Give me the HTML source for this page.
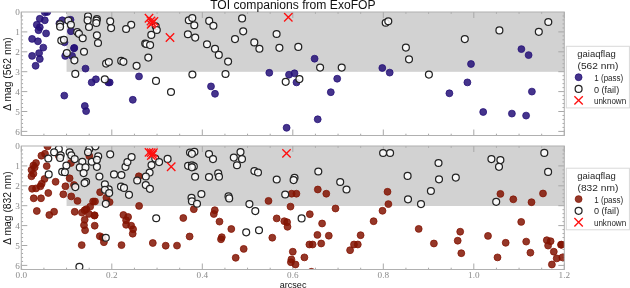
<!DOCTYPE html>
<html lang="en"><head><meta charset="utf-8"><title>TOI companions from ExoFOP</title>
<style>html,body{margin:0;padding:0;background:#fff;}svg{display:block;}text{font-family:"Liberation Sans","DejaVu Sans",sans-serif;}.tk{font-family:"Liberation Serif","DejaVu Serif",serif;font-size:9.2px;fill:#8a8a8a;}.lg{font-size:8.3px;fill:#262626;}.yl{font-size:10.8px;fill:#111;}</style></head><body>
<svg width="630" height="288" viewBox="0 0 630 288">
<rect width="630" height="288" fill="#fff"/>
<defs>
<clipPath id="ct"><rect x="21.30" y="12.00" width="543.00" height="123.50"/></clipPath>
<clipPath id="cb"><rect x="21.30" y="146.00" width="543.00" height="123.50"/></clipPath>
</defs>
<rect x="66.55" y="12.00" width="497.75" height="59.80" fill="#d2d2d2"/>
<path d="M21.30 135.50v-6.00M21.30 12.00v6.00M43.92 135.50v-1.80M43.92 12.00v1.80M66.55 135.50v-1.80M66.55 12.00v1.80M89.18 135.50v-1.80M89.18 12.00v1.80M111.80 135.50v-6.00M111.80 12.00v6.00M134.43 135.50v-1.80M134.43 12.00v1.80M157.05 135.50v-1.80M157.05 12.00v1.80M179.68 135.50v-1.80M179.68 12.00v1.80M202.30 135.50v-6.00M202.30 12.00v6.00M224.93 135.50v-1.80M224.93 12.00v1.80M247.55 135.50v-1.80M247.55 12.00v1.80M270.18 135.50v-1.80M270.18 12.00v1.80M292.80 135.50v-6.00M292.80 12.00v6.00M315.43 135.50v-1.80M315.43 12.00v1.80M338.05 135.50v-1.80M338.05 12.00v1.80M360.68 135.50v-1.80M360.68 12.00v1.80M383.30 135.50v-6.00M383.30 12.00v6.00M405.93 135.50v-1.80M405.93 12.00v1.80M428.55 135.50v-1.80M428.55 12.00v1.80M451.18 135.50v-1.80M451.18 12.00v1.80M473.80 135.50v-6.00M473.80 12.00v6.00M496.43 135.50v-1.80M496.43 12.00v1.80M519.05 135.50v-1.80M519.05 12.00v1.80M541.68 135.50v-1.80M541.68 12.00v1.80M564.30 135.50v-6.00M564.30 12.00v6.00M21.30 15.98h1.80M564.30 15.98h-1.80M21.30 19.96h1.80M564.30 19.96h-1.80M21.30 23.94h1.80M564.30 23.94h-1.80M21.30 27.92h1.80M564.30 27.92h-1.80M21.30 31.90h6.00M564.30 31.90h-6.00M21.30 35.88h1.80M564.30 35.88h-1.80M21.30 39.86h1.80M564.30 39.86h-1.80M21.30 43.84h1.80M564.30 43.84h-1.80M21.30 47.82h1.80M564.30 47.82h-1.80M21.30 51.80h6.00M564.30 51.80h-6.00M21.30 55.78h1.80M564.30 55.78h-1.80M21.30 59.76h1.80M564.30 59.76h-1.80M21.30 63.74h1.80M564.30 63.74h-1.80M21.30 67.72h1.80M564.30 67.72h-1.80M21.30 71.70h6.00M564.30 71.70h-6.00M21.30 75.68h1.80M564.30 75.68h-1.80M21.30 79.66h1.80M564.30 79.66h-1.80M21.30 83.64h1.80M564.30 83.64h-1.80M21.30 87.62h1.80M564.30 87.62h-1.80M21.30 91.60h6.00M564.30 91.60h-6.00M21.30 95.58h1.80M564.30 95.58h-1.80M21.30 99.56h1.80M564.30 99.56h-1.80M21.30 103.54h1.80M564.30 103.54h-1.80M21.30 107.52h1.80M564.30 107.52h-1.80M21.30 111.50h6.00M564.30 111.50h-6.00M21.30 115.48h1.80M564.30 115.48h-1.80M21.30 119.46h1.80M564.30 119.46h-1.80M21.30 123.44h1.80M564.30 123.44h-1.80M21.30 127.42h1.80M564.30 127.42h-1.80M21.30 131.40h6.00M564.30 131.40h-6.00M21.30 135.38h1.80M564.30 135.38h-1.80" stroke="#a8a8a8" stroke-width="1" fill="none"/>
<g clip-path="url(#ct)">
<g fill="#251078" fill-opacity="0.85" stroke="#251078" stroke-opacity="0.85" stroke-width="0.9">
<circle cx="44.8" cy="12.3" r="3.45"/>
<circle cx="47.3" cy="12.0" r="3.45"/>
<circle cx="39.8" cy="18.8" r="3.45"/>
<circle cx="44.8" cy="20.3" r="3.45"/>
<circle cx="36.8" cy="24.8" r="3.45"/>
<circle cx="39.8" cy="27.3" r="3.45"/>
<circle cx="38.5" cy="30.2" r="3.45"/>
<circle cx="46.1" cy="33.4" r="3.45"/>
<circle cx="32.1" cy="38.9" r="3.45"/>
<circle cx="37.9" cy="41.3" r="3.45"/>
<circle cx="43.3" cy="47.6" r="3.45"/>
<circle cx="39.1" cy="53.1" r="3.45"/>
<circle cx="32.1" cy="55.9" r="3.45"/>
<circle cx="39.8" cy="59.0" r="3.45"/>
<circle cx="35.6" cy="65.8" r="3.45"/>
<circle cx="62.2" cy="20.3" r="3.45"/>
<circle cx="59.4" cy="23.5" r="3.45"/>
<circle cx="70.5" cy="19.8" r="3.45"/>
<circle cx="70.9" cy="31.2" r="3.45"/>
<circle cx="64.5" cy="42.3" r="3.45"/>
<circle cx="74.3" cy="47.9" r="3.45"/>
<circle cx="74.0" cy="48.3" r="3.45"/>
<circle cx="65.2" cy="55.9" r="3.45"/>
<circle cx="72.1" cy="55.9" r="3.45"/>
<circle cx="85.5" cy="68.6" r="3.45"/>
<circle cx="64.3" cy="95.6" r="3.45"/>
<circle cx="91.7" cy="82.4" r="3.45"/>
<circle cx="95.9" cy="79.3" r="3.45"/>
<circle cx="108.3" cy="82.4" r="3.45"/>
<circle cx="109.7" cy="82.4" r="3.45"/>
<circle cx="84.8" cy="106.0" r="3.45"/>
<circle cx="86.1" cy="111.1" r="3.45"/>
<circle cx="132.8" cy="99.8" r="3.45"/>
<circle cx="139.0" cy="76.4" r="3.45"/>
<circle cx="211.0" cy="86.4" r="3.45"/>
<circle cx="215.0" cy="93.8" r="3.45"/>
<circle cx="269.3" cy="72.8" r="3.45"/>
<circle cx="289.0" cy="74.7" r="3.45"/>
<circle cx="294.5" cy="73.3" r="3.45"/>
<circle cx="296.5" cy="82.4" r="3.45"/>
<circle cx="286.6" cy="127.8" r="3.45"/>
<circle cx="314.6" cy="58.7" r="3.45"/>
<circle cx="382.3" cy="68.0" r="3.45"/>
<circle cx="389.7" cy="72.6" r="3.45"/>
<circle cx="337.2" cy="78.7" r="3.45"/>
<circle cx="330.8" cy="92.2" r="3.45"/>
<circle cx="317.7" cy="119.3" r="3.45"/>
<circle cx="471.0" cy="64.0" r="3.45"/>
<circle cx="521.4" cy="49.1" r="3.45"/>
<circle cx="528.6" cy="55.1" r="3.45"/>
<circle cx="449.4" cy="93.3" r="3.45"/>
<circle cx="467.4" cy="82.4" r="3.45"/>
<circle cx="483.2" cy="112.0" r="3.45"/>
<circle cx="511.9" cy="113.6" r="3.45"/>
<circle cx="526.1" cy="115.6" r="3.45"/>
<circle cx="531.9" cy="91.6" r="3.45"/>
</g>
<g fill="#fff" fill-opacity="0.85" stroke="#242424" stroke-width="1.25">
<circle cx="60.1" cy="24.3" r="3.45"/>
<circle cx="60.1" cy="26.7" r="3.45"/>
<circle cx="68.3" cy="20.5" r="3.45"/>
<circle cx="70.9" cy="24.8" r="3.45"/>
<circle cx="77.2" cy="32.1" r="3.45"/>
<circle cx="78.9" cy="33.8" r="3.45"/>
<circle cx="82.7" cy="38.2" r="3.45"/>
<circle cx="88.0" cy="16.3" r="3.45"/>
<circle cx="87.6" cy="20.3" r="3.45"/>
<circle cx="89.0" cy="27.0" r="3.45"/>
<circle cx="61.3" cy="40.6" r="3.45"/>
<circle cx="63.9" cy="39.7" r="3.45"/>
<circle cx="66.8" cy="53.1" r="3.45"/>
<circle cx="74.4" cy="60.3" r="3.45"/>
<circle cx="84.0" cy="51.7" r="3.45"/>
<circle cx="75.3" cy="73.9" r="3.45"/>
<circle cx="96.9" cy="19.0" r="3.45"/>
<circle cx="96.5" cy="20.5" r="3.45"/>
<circle cx="96.3" cy="23.0" r="3.45"/>
<circle cx="110.2" cy="21.3" r="3.45"/>
<circle cx="111.1" cy="28.1" r="3.45"/>
<circle cx="131.2" cy="24.8" r="3.45"/>
<circle cx="126.1" cy="29.0" r="3.45"/>
<circle cx="96.9" cy="35.3" r="3.45"/>
<circle cx="98.0" cy="43.0" r="3.45"/>
<circle cx="155.7" cy="26.2" r="3.45"/>
<circle cx="156.8" cy="30.0" r="3.45"/>
<circle cx="151.3" cy="34.9" r="3.45"/>
<circle cx="145.2" cy="43.6" r="3.45"/>
<circle cx="146.3" cy="44.0" r="3.45"/>
<circle cx="150.1" cy="45.1" r="3.45"/>
<circle cx="106.1" cy="63.6" r="3.45"/>
<circle cx="108.8" cy="62.0" r="3.45"/>
<circle cx="121.2" cy="60.9" r="3.45"/>
<circle cx="123.4" cy="61.8" r="3.45"/>
<circle cx="136.6" cy="65.8" r="3.45"/>
<circle cx="148.3" cy="57.6" r="3.45"/>
<circle cx="104.8" cy="79.3" r="3.45"/>
<circle cx="156.0" cy="80.9" r="3.45"/>
<circle cx="188.8" cy="20.2" r="3.45"/>
<circle cx="192.3" cy="18.0" r="3.45"/>
<circle cx="194.3" cy="25.3" r="3.45"/>
<circle cx="187.9" cy="34.2" r="3.45"/>
<circle cx="195.2" cy="37.6" r="3.45"/>
<circle cx="209.2" cy="20.9" r="3.45"/>
<circle cx="213.4" cy="25.8" r="3.45"/>
<circle cx="207.0" cy="44.2" r="3.45"/>
<circle cx="215.0" cy="48.7" r="3.45"/>
<circle cx="218.8" cy="54.9" r="3.45"/>
<circle cx="228.1" cy="61.6" r="3.45"/>
<circle cx="235.0" cy="39.1" r="3.45"/>
<circle cx="242.1" cy="18.4" r="3.45"/>
<circle cx="243.2" cy="31.3" r="3.45"/>
<circle cx="254.3" cy="42.4" r="3.45"/>
<circle cx="259.4" cy="48.7" r="3.45"/>
<circle cx="276.6" cy="34.0" r="3.45"/>
<circle cx="279.4" cy="47.8" r="3.45"/>
<circle cx="225.5" cy="74.0" r="3.45"/>
<circle cx="192.4" cy="74.5" r="3.45"/>
<circle cx="171.0" cy="92.0" r="3.45"/>
<circle cx="285.7" cy="81.8" r="3.45"/>
<circle cx="298.3" cy="46.9" r="3.45"/>
<circle cx="320.1" cy="67.6" r="3.45"/>
<circle cx="341.7" cy="67.6" r="3.45"/>
<circle cx="385.7" cy="22.7" r="3.45"/>
<circle cx="388.3" cy="21.3" r="3.45"/>
<circle cx="405.9" cy="47.6" r="3.45"/>
<circle cx="409.0" cy="59.3" r="3.45"/>
<circle cx="428.9" cy="74.6" r="3.45"/>
<circle cx="299.4" cy="79.1" r="3.45"/>
<circle cx="464.8" cy="39.1" r="3.45"/>
<circle cx="499.4" cy="30.4" r="3.45"/>
<circle cx="538.8" cy="31.8" r="3.45"/>
<circle cx="548.3" cy="22.0" r="3.45"/>
</g>
<g stroke="#ff1010" stroke-width="1.35" fill="none">
<path d="M144.8 14.1L153.2 22.5M144.8 22.5L153.2 14.1"/>
<path d="M146.8 16.8L155.2 25.2M146.8 25.2L155.2 16.8"/>
<path d="M149.7 17.2L158.1 25.6M149.7 25.6L158.1 17.2"/>
<path d="M148.0 18.7L156.4 27.1M148.0 27.1L156.4 18.7"/>
<path d="M147.0 20.2L155.4 28.6M147.0 28.6L155.4 20.2"/>
<path d="M165.8 33.3L174.2 41.7M165.8 41.7L174.2 33.3"/>
<path d="M284.1 13.1L292.5 21.5M284.1 21.5L292.5 13.1"/>
</g>
</g>
<rect x="21.30" y="12.00" width="543.00" height="123.50" fill="none" stroke="#b0b0b0" stroke-width="1"/>
<text class="tk" x="19.8" y="15.2" text-anchor="end">0</text>
<text class="tk" x="19.8" y="35.1" text-anchor="end">1</text>
<text class="tk" x="19.8" y="55.0" text-anchor="end">2</text>
<text class="tk" x="19.8" y="74.9" text-anchor="end">3</text>
<text class="tk" x="19.8" y="94.8" text-anchor="end">4</text>
<text class="tk" x="19.8" y="114.7" text-anchor="end">5</text>
<text class="tk" x="19.8" y="134.6" text-anchor="end">6</text>
<rect x="66.55" y="146.00" width="497.75" height="60.00" fill="#d2d2d2"/>
<path d="M21.30 269.50v-6.00M21.30 146.00v6.00M43.92 269.50v-1.80M43.92 146.00v1.80M66.55 269.50v-1.80M66.55 146.00v1.80M89.18 269.50v-1.80M89.18 146.00v1.80M111.80 269.50v-6.00M111.80 146.00v6.00M134.43 269.50v-1.80M134.43 146.00v1.80M157.05 269.50v-1.80M157.05 146.00v1.80M179.68 269.50v-1.80M179.68 146.00v1.80M202.30 269.50v-6.00M202.30 146.00v6.00M224.93 269.50v-1.80M224.93 146.00v1.80M247.55 269.50v-1.80M247.55 146.00v1.80M270.18 269.50v-1.80M270.18 146.00v1.80M292.80 269.50v-6.00M292.80 146.00v6.00M315.43 269.50v-1.80M315.43 146.00v1.80M338.05 269.50v-1.80M338.05 146.00v1.80M360.68 269.50v-1.80M360.68 146.00v1.80M383.30 269.50v-6.00M383.30 146.00v6.00M405.93 269.50v-1.80M405.93 146.00v1.80M428.55 269.50v-1.80M428.55 146.00v1.80M451.18 269.50v-1.80M451.18 146.00v1.80M473.80 269.50v-6.00M473.80 146.00v6.00M496.43 269.50v-1.80M496.43 146.00v1.80M519.05 269.50v-1.80M519.05 146.00v1.80M541.68 269.50v-1.80M541.68 146.00v1.80M564.30 269.50v-6.00M564.30 146.00v6.00M21.30 149.98h1.80M564.30 149.98h-1.80M21.30 153.96h1.80M564.30 153.96h-1.80M21.30 157.94h1.80M564.30 157.94h-1.80M21.30 161.92h1.80M564.30 161.92h-1.80M21.30 165.90h6.00M564.30 165.90h-6.00M21.30 169.88h1.80M564.30 169.88h-1.80M21.30 173.86h1.80M564.30 173.86h-1.80M21.30 177.84h1.80M564.30 177.84h-1.80M21.30 181.82h1.80M564.30 181.82h-1.80M21.30 185.80h6.00M564.30 185.80h-6.00M21.30 189.78h1.80M564.30 189.78h-1.80M21.30 193.76h1.80M564.30 193.76h-1.80M21.30 197.74h1.80M564.30 197.74h-1.80M21.30 201.72h1.80M564.30 201.72h-1.80M21.30 205.70h6.00M564.30 205.70h-6.00M21.30 209.68h1.80M564.30 209.68h-1.80M21.30 213.66h1.80M564.30 213.66h-1.80M21.30 217.64h1.80M564.30 217.64h-1.80M21.30 221.62h1.80M564.30 221.62h-1.80M21.30 225.60h6.00M564.30 225.60h-6.00M21.30 229.58h1.80M564.30 229.58h-1.80M21.30 233.56h1.80M564.30 233.56h-1.80M21.30 237.54h1.80M564.30 237.54h-1.80M21.30 241.52h1.80M564.30 241.52h-1.80M21.30 245.50h6.00M564.30 245.50h-6.00M21.30 249.48h1.80M564.30 249.48h-1.80M21.30 253.46h1.80M564.30 253.46h-1.80M21.30 257.44h1.80M564.30 257.44h-1.80M21.30 261.42h1.80M564.30 261.42h-1.80M21.30 265.40h6.00M564.30 265.40h-6.00M21.30 269.38h1.80M564.30 269.38h-1.80" stroke="#a8a8a8" stroke-width="1" fill="none"/>
<g clip-path="url(#cb)">
<g fill="#831402" fill-opacity="0.85" stroke="#831402" stroke-opacity="0.85" stroke-width="0.9">
<circle cx="47.6" cy="146.4" r="3.45"/>
<circle cx="45.0" cy="153.8" r="3.45"/>
<circle cx="41.4" cy="155.7" r="3.45"/>
<circle cx="36.0" cy="163.0" r="3.45"/>
<circle cx="33.4" cy="165.5" r="3.45"/>
<circle cx="34.7" cy="167.4" r="3.45"/>
<circle cx="31.5" cy="169.9" r="3.45"/>
<circle cx="33.4" cy="173.7" r="3.45"/>
<circle cx="31.5" cy="176.3" r="3.45"/>
<circle cx="46.7" cy="166.1" r="3.45"/>
<circle cx="44.5" cy="179.0" r="3.45"/>
<circle cx="70.9" cy="163.0" r="3.45"/>
<circle cx="89.3" cy="156.0" r="3.45"/>
<circle cx="69.6" cy="178.3" r="3.45"/>
<circle cx="58.8" cy="156.0" r="3.45"/>
<circle cx="55.6" cy="181.8" r="3.45"/>
<circle cx="41.7" cy="183.7" r="3.45"/>
<circle cx="40.4" cy="186.3" r="3.45"/>
<circle cx="36.0" cy="188.4" r="3.45"/>
<circle cx="32.1" cy="188.8" r="3.45"/>
<circle cx="65.4" cy="186.3" r="3.45"/>
<circle cx="74.0" cy="185.0" r="3.45"/>
<circle cx="48.3" cy="193.0" r="3.45"/>
<circle cx="63.3" cy="194.3" r="3.45"/>
<circle cx="71.3" cy="196.4" r="3.45"/>
<circle cx="33.7" cy="198.3" r="3.45"/>
<circle cx="41.0" cy="198.3" r="3.45"/>
<circle cx="77.5" cy="200.9" r="3.45"/>
<circle cx="93.1" cy="201.5" r="3.45"/>
<circle cx="36.8" cy="211.0" r="3.45"/>
<circle cx="54.1" cy="211.7" r="3.45"/>
<circle cx="49.3" cy="215.0" r="3.45"/>
<circle cx="74.7" cy="211.8" r="3.45"/>
<circle cx="90.2" cy="206.6" r="3.45"/>
<circle cx="86.3" cy="209.2" r="3.45"/>
<circle cx="84.6" cy="210.3" r="3.45"/>
<circle cx="81.9" cy="212.6" r="3.45"/>
<circle cx="88.9" cy="213.9" r="3.45"/>
<circle cx="100.1" cy="192.2" r="3.45"/>
<circle cx="106.4" cy="197.7" r="3.45"/>
<circle cx="109.6" cy="202.1" r="3.45"/>
<circle cx="95.0" cy="201.5" r="3.45"/>
<circle cx="139.1" cy="205.9" r="3.45"/>
<circle cx="94.4" cy="215.6" r="3.45"/>
<circle cx="123.4" cy="215.0" r="3.45"/>
<circle cx="128.1" cy="217.0" r="3.45"/>
<circle cx="84.7" cy="219.8" r="3.45"/>
<circle cx="84.0" cy="225.2" r="3.45"/>
<circle cx="85.1" cy="230.3" r="3.45"/>
<circle cx="94.7" cy="225.7" r="3.45"/>
<circle cx="81.7" cy="245.1" r="3.45"/>
<circle cx="94.7" cy="215.3" r="3.45"/>
<circle cx="126.1" cy="220.3" r="3.45"/>
<circle cx="126.1" cy="224.8" r="3.45"/>
<circle cx="131.2" cy="225.7" r="3.45"/>
<circle cx="133.1" cy="229.2" r="3.45"/>
<circle cx="132.7" cy="233.7" r="3.45"/>
<circle cx="99.8" cy="236.2" r="3.45"/>
<circle cx="102.6" cy="237.5" r="3.45"/>
<circle cx="103.9" cy="242.2" r="3.45"/>
<circle cx="121.5" cy="245.1" r="3.45"/>
<circle cx="152.8" cy="243.0" r="3.45"/>
<circle cx="165.7" cy="245.7" r="3.45"/>
<circle cx="177.0" cy="245.6" r="3.45"/>
<circle cx="138.8" cy="176.3" r="3.45"/>
<circle cx="193.8" cy="209.2" r="3.45"/>
<circle cx="183.3" cy="218.0" r="3.45"/>
<circle cx="214.8" cy="210.2" r="3.45"/>
<circle cx="213.8" cy="214.0" r="3.45"/>
<circle cx="219.5" cy="221.6" r="3.45"/>
<circle cx="231.3" cy="229.0" r="3.45"/>
<circle cx="189.6" cy="236.5" r="3.45"/>
<circle cx="221.8" cy="237.2" r="3.45"/>
<circle cx="221.0" cy="239.3" r="3.45"/>
<circle cx="268.5" cy="200.9" r="3.45"/>
<circle cx="276.7" cy="218.4" r="3.45"/>
<circle cx="284.3" cy="221.2" r="3.45"/>
<circle cx="287.1" cy="222.2" r="3.45"/>
<circle cx="287.5" cy="226.8" r="3.45"/>
<circle cx="272.3" cy="237.7" r="3.45"/>
<circle cx="290.5" cy="206.6" r="3.45"/>
<circle cx="243.7" cy="248.9" r="3.45"/>
<circle cx="235.7" cy="257.8" r="3.45"/>
<circle cx="290.9" cy="262.2" r="3.45"/>
<circle cx="317.8" cy="189.5" r="3.45"/>
<circle cx="326.3" cy="193.7" r="3.45"/>
<circle cx="291.7" cy="193.7" r="3.45"/>
<circle cx="296.4" cy="193.7" r="3.45"/>
<circle cx="387.5" cy="191.8" r="3.45"/>
<circle cx="335.5" cy="208.5" r="3.45"/>
<circle cx="309.8" cy="214.2" r="3.45"/>
<circle cx="322.1" cy="223.5" r="3.45"/>
<circle cx="317.4" cy="234.9" r="3.45"/>
<circle cx="328.8" cy="235.7" r="3.45"/>
<circle cx="360.6" cy="235.2" r="3.45"/>
<circle cx="373.6" cy="221.2" r="3.45"/>
<circle cx="382.5" cy="210.8" r="3.45"/>
<circle cx="388.4" cy="204.1" r="3.45"/>
<circle cx="309.4" cy="244.5" r="3.45"/>
<circle cx="312.6" cy="244.5" r="3.45"/>
<circle cx="321.2" cy="243.5" r="3.45"/>
<circle cx="354.0" cy="244.5" r="3.45"/>
<circle cx="357.8" cy="244.5" r="3.45"/>
<circle cx="350.1" cy="250.2" r="3.45"/>
<circle cx="292.8" cy="251.7" r="3.45"/>
<circle cx="304.4" cy="257.4" r="3.45"/>
<circle cx="291.4" cy="259.4" r="3.45"/>
<circle cx="295.5" cy="264.5" r="3.45"/>
<circle cx="311.4" cy="271.8" r="3.45"/>
<circle cx="500.4" cy="193.9" r="3.45"/>
<circle cx="513.3" cy="199.3" r="3.45"/>
<circle cx="418.7" cy="228.9" r="3.45"/>
<circle cx="460.2" cy="231.7" r="3.45"/>
<circle cx="488.0" cy="235.9" r="3.45"/>
<circle cx="433.9" cy="243.5" r="3.45"/>
<circle cx="457.7" cy="240.7" r="3.45"/>
<circle cx="461.3" cy="253.2" r="3.45"/>
<circle cx="505.7" cy="242.8" r="3.45"/>
<circle cx="497.5" cy="257.4" r="3.45"/>
<circle cx="543.0" cy="193.5" r="3.45"/>
<circle cx="531.5" cy="202.2" r="3.45"/>
<circle cx="521.2" cy="221.9" r="3.45"/>
<circle cx="526.2" cy="241.6" r="3.45"/>
<circle cx="546.8" cy="240.2" r="3.45"/>
<circle cx="550.6" cy="241.2" r="3.45"/>
<circle cx="548.1" cy="245.6" r="3.45"/>
<circle cx="530.4" cy="252.7" r="3.45"/>
<circle cx="553.8" cy="251.7" r="3.45"/>
<circle cx="556.7" cy="258.4" r="3.45"/>
<circle cx="551.9" cy="264.5" r="3.45"/>
<circle cx="561.0" cy="244.7" r="3.45"/>
<circle cx="561.5" cy="244.7" r="3.45"/>
<circle cx="562.4" cy="257.4" r="3.45"/>
</g>
<g fill="#fff" fill-opacity="0.85" stroke="#242424" stroke-width="1.25">
<circle cx="58.8" cy="149.0" r="3.45"/>
<circle cx="54.1" cy="152.2" r="3.45"/>
<circle cx="48.3" cy="158.5" r="3.45"/>
<circle cx="60.7" cy="155.3" r="3.45"/>
<circle cx="60.1" cy="157.9" r="3.45"/>
<circle cx="69.6" cy="152.2" r="3.45"/>
<circle cx="71.3" cy="155.3" r="3.45"/>
<circle cx="74.7" cy="159.1" r="3.45"/>
<circle cx="66.4" cy="165.5" r="3.45"/>
<circle cx="82.3" cy="161.7" r="3.45"/>
<circle cx="79.8" cy="167.4" r="3.45"/>
<circle cx="85.5" cy="167.4" r="3.45"/>
<circle cx="83.6" cy="173.1" r="3.45"/>
<circle cx="62.2" cy="171.8" r="3.45"/>
<circle cx="64.9" cy="172.2" r="3.45"/>
<circle cx="48.7" cy="174.4" r="3.45"/>
<circle cx="89.3" cy="149.0" r="3.45"/>
<circle cx="88.0" cy="152.2" r="3.45"/>
<circle cx="91.8" cy="161.7" r="3.45"/>
<circle cx="95.4" cy="146.3" r="3.45"/>
<circle cx="98.2" cy="156.2" r="3.45"/>
<circle cx="96.9" cy="159.8" r="3.45"/>
<circle cx="96.9" cy="166.8" r="3.45"/>
<circle cx="99.4" cy="176.5" r="3.45"/>
<circle cx="110.2" cy="154.3" r="3.45"/>
<circle cx="114.0" cy="174.4" r="3.45"/>
<circle cx="121.4" cy="175.0" r="3.45"/>
<circle cx="125.5" cy="166.8" r="3.45"/>
<circle cx="127.4" cy="162.1" r="3.45"/>
<circle cx="131.6" cy="157.0" r="3.45"/>
<circle cx="155.3" cy="158.5" r="3.45"/>
<circle cx="159.1" cy="162.1" r="3.45"/>
<circle cx="151.5" cy="165.1" r="3.45"/>
<circle cx="149.6" cy="172.5" r="3.45"/>
<circle cx="145.8" cy="176.5" r="3.45"/>
<circle cx="167.6" cy="158.9" r="3.45"/>
<circle cx="75.3" cy="187.1" r="3.45"/>
<circle cx="86.1" cy="181.8" r="3.45"/>
<circle cx="84.6" cy="183.1" r="3.45"/>
<circle cx="104.9" cy="184.3" r="3.45"/>
<circle cx="108.7" cy="189.4" r="3.45"/>
<circle cx="104.9" cy="189.7" r="3.45"/>
<circle cx="109.2" cy="193.0" r="3.45"/>
<circle cx="105.8" cy="203.8" r="3.45"/>
<circle cx="121.0" cy="186.6" r="3.45"/>
<circle cx="124.0" cy="187.9" r="3.45"/>
<circle cx="129.0" cy="194.8" r="3.45"/>
<circle cx="137.2" cy="180.5" r="3.45"/>
<circle cx="145.8" cy="185.0" r="3.45"/>
<circle cx="149.9" cy="188.8" r="3.45"/>
<circle cx="105.8" cy="237.7" r="3.45"/>
<circle cx="156.2" cy="218.2" r="3.45"/>
<circle cx="79.4" cy="266.7" r="3.45"/>
<circle cx="190.0" cy="152.5" r="3.45"/>
<circle cx="194.4" cy="151.9" r="3.45"/>
<circle cx="191.9" cy="153.8" r="3.45"/>
<circle cx="209.0" cy="154.0" r="3.45"/>
<circle cx="213.0" cy="159.1" r="3.45"/>
<circle cx="188.1" cy="165.8" r="3.45"/>
<circle cx="191.9" cy="165.2" r="3.45"/>
<circle cx="193.8" cy="166.4" r="3.45"/>
<circle cx="191.9" cy="167.3" r="3.45"/>
<circle cx="195.1" cy="176.7" r="3.45"/>
<circle cx="209.0" cy="177.0" r="3.45"/>
<circle cx="218.2" cy="173.4" r="3.45"/>
<circle cx="219.0" cy="176.7" r="3.45"/>
<circle cx="233.8" cy="157.6" r="3.45"/>
<circle cx="240.5" cy="152.1" r="3.45"/>
<circle cx="242.0" cy="159.1" r="3.45"/>
<circle cx="237.0" cy="165.2" r="3.45"/>
<circle cx="254.4" cy="171.0" r="3.45"/>
<circle cx="258.0" cy="172.5" r="3.45"/>
<circle cx="276.7" cy="179.5" r="3.45"/>
<circle cx="201.4" cy="194.0" r="3.45"/>
<circle cx="191.5" cy="197.8" r="3.45"/>
<circle cx="191.9" cy="201.2" r="3.45"/>
<circle cx="197.0" cy="203.7" r="3.45"/>
<circle cx="228.5" cy="196.4" r="3.45"/>
<circle cx="229.2" cy="198.4" r="3.45"/>
<circle cx="249.4" cy="204.1" r="3.45"/>
<circle cx="255.3" cy="211.1" r="3.45"/>
<circle cx="246.2" cy="232.3" r="3.45"/>
<circle cx="259.0" cy="230.2" r="3.45"/>
<circle cx="285.2" cy="194.5" r="3.45"/>
<circle cx="383.1" cy="153.0" r="3.45"/>
<circle cx="390.1" cy="153.0" r="3.45"/>
<circle cx="318.3" cy="171.5" r="3.45"/>
<circle cx="294.5" cy="177.8" r="3.45"/>
<circle cx="293.6" cy="180.1" r="3.45"/>
<circle cx="340.2" cy="182.0" r="3.45"/>
<circle cx="346.5" cy="189.5" r="3.45"/>
<circle cx="301.6" cy="218.4" r="3.45"/>
<circle cx="407.6" cy="175.9" r="3.45"/>
<circle cx="438.5" cy="163.0" r="3.45"/>
<circle cx="439.0" cy="179.3" r="3.45"/>
<circle cx="455.8" cy="177.6" r="3.45"/>
<circle cx="430.9" cy="191.0" r="3.45"/>
<circle cx="491.4" cy="159.1" r="3.45"/>
<circle cx="500.4" cy="160.1" r="3.45"/>
<circle cx="499.0" cy="166.8" r="3.45"/>
<circle cx="408.0" cy="199.3" r="3.45"/>
<circle cx="421.0" cy="204.1" r="3.45"/>
<circle cx="496.2" cy="201.8" r="3.45"/>
<circle cx="544.3" cy="152.9" r="3.45"/>
<circle cx="548.1" cy="171.9" r="3.45"/>
</g>
<g stroke="#ff1010" stroke-width="1.35" fill="none">
<path d="M144.8 148.2L153.2 156.6M144.8 156.6L153.2 148.2"/>
<path d="M147.0 148.4L155.4 156.8M147.0 156.8L155.4 148.4"/>
<path d="M149.2 148.6L157.6 157.0M149.2 157.0L157.6 148.6"/>
<path d="M147.1 151.3L155.5 159.7M147.1 159.7L155.5 151.3"/>
<path d="M148.4 150.4L156.8 158.8M148.4 158.8L156.8 150.4"/>
<path d="M167.0 162.6L175.4 171.0M167.0 171.0L175.4 162.6"/>
<path d="M282.3 149.2L290.7 157.6M282.3 157.6L290.7 149.2"/>
</g>
</g>
<rect x="21.30" y="146.00" width="543.00" height="123.50" fill="none" stroke="#b0b0b0" stroke-width="1"/>
<text class="tk" x="19.8" y="149.2" text-anchor="end">0</text>
<text class="tk" x="19.8" y="169.1" text-anchor="end">1</text>
<text class="tk" x="19.8" y="189.0" text-anchor="end">2</text>
<text class="tk" x="19.8" y="208.9" text-anchor="end">3</text>
<text class="tk" x="19.8" y="228.8" text-anchor="end">4</text>
<text class="tk" x="19.8" y="248.7" text-anchor="end">5</text>
<text class="tk" x="19.8" y="268.6" text-anchor="end">6</text>
<text class="tk" x="21.3" y="277.7" text-anchor="middle">0.0</text>
<text class="tk" x="111.8" y="277.7" text-anchor="middle">0.2</text>
<text class="tk" x="202.3" y="277.7" text-anchor="middle">0.4</text>
<text class="tk" x="292.8" y="277.7" text-anchor="middle">0.6</text>
<text class="tk" x="383.3" y="277.7" text-anchor="middle">0.8</text>
<text class="tk" x="473.8" y="277.7" text-anchor="middle">1.0</text>
<text class="tk" x="564.3" y="277.7" text-anchor="middle">1.2</text>
<text x="293.1" y="288.1" text-anchor="middle" textLength="26.7" lengthAdjust="spacingAndGlyphs" style="font-size:9.1px;fill:#111">arcsec</text>
<text x="292.9" y="8.8" text-anchor="middle" textLength="165.4" lengthAdjust="spacingAndGlyphs" style="font-size:12.04px;fill:#111">TOI companions from ExoFOP</text>
<text class="yl" transform="translate(10.7,74.05) rotate(-90)" text-anchor="middle" textLength="73.5" lengthAdjust="spacingAndGlyphs">Δ mag (562 nm)</text>
<text class="yl" transform="translate(10.7,208.05) rotate(-90)" text-anchor="middle" textLength="73.3" lengthAdjust="spacingAndGlyphs">Δ mag (832 nm)</text>
<rect x="566.3" y="46.3" width="63.1" height="61.6" fill="#fff" stroke="#d9d9d9" stroke-width="1"/>
<text class="lg" x="596.5" y="56.8" text-anchor="middle" textLength="38.5" lengthAdjust="spacingAndGlyphs" style="font-size:9.5px">gaiaqflag</text>
<text class="lg" x="597.9" y="68.8" text-anchor="middle" textLength="40.8" lengthAdjust="spacingAndGlyphs" style="font-size:9.5px">(562 nm)</text>
<circle cx="578.6" cy="77.2" r="3.45" fill="#251078" fill-opacity="0.85" stroke="#251078" stroke-opacity="0.85" stroke-width="0.9"/>
<circle cx="578.6" cy="88.9" r="3.45" fill="#fff" stroke="#242424" stroke-width="1.25"/>
<path d="M574.4 96.2L582.8 104.6M574.4 104.6L582.8 96.2" stroke="#ff1010" stroke-width="1.35"/>
<text class="lg" x="594.3" y="80.8" textLength="29.0" lengthAdjust="spacingAndGlyphs">1 (pass)</text>
<text class="lg" x="593.9" y="92.5" textLength="25.3" lengthAdjust="spacingAndGlyphs">0 (fail)</text>
<text class="lg" x="593.9" y="104.0" textLength="32.3" lengthAdjust="spacingAndGlyphs">unknown</text>
<rect x="566.3" y="168.2" width="63.1" height="61.6" fill="#fff" stroke="#d9d9d9" stroke-width="1"/>
<text class="lg" x="596.5" y="178.7" text-anchor="middle" textLength="38.5" lengthAdjust="spacingAndGlyphs" style="font-size:9.5px">gaiaqflag</text>
<text class="lg" x="597.9" y="190.7" text-anchor="middle" textLength="40.8" lengthAdjust="spacingAndGlyphs" style="font-size:9.5px">(832 nm)</text>
<circle cx="578.6" cy="199.1" r="3.45" fill="#831402" fill-opacity="0.85" stroke="#831402" stroke-opacity="0.85" stroke-width="0.9"/>
<circle cx="578.6" cy="210.8" r="3.45" fill="#fff" stroke="#242424" stroke-width="1.25"/>
<path d="M574.4 218.1L582.8 226.5M574.4 226.5L582.8 218.1" stroke="#ff1010" stroke-width="1.35"/>
<text class="lg" x="594.3" y="202.7" textLength="29.0" lengthAdjust="spacingAndGlyphs">1 (pass)</text>
<text class="lg" x="593.9" y="214.4" textLength="25.3" lengthAdjust="spacingAndGlyphs">0 (fail)</text>
<text class="lg" x="593.9" y="225.9" textLength="32.3" lengthAdjust="spacingAndGlyphs">unknown</text>
</svg></body></html>
